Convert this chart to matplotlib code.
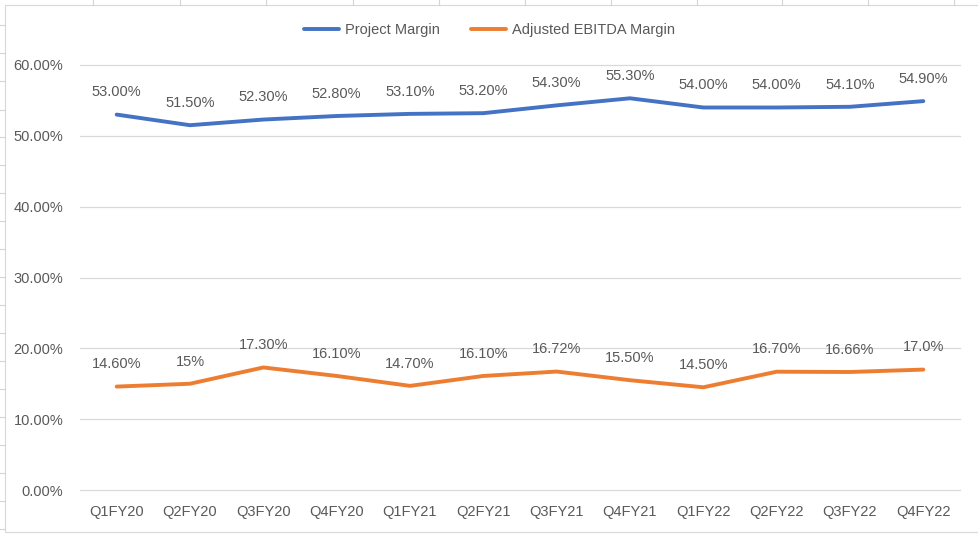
import matplotlib.pyplot as plt
from matplotlib.lines import Line2D
from matplotlib.patches import Rectangle

quarters = ["Q1FY20", "Q2FY20", "Q3FY20", "Q4FY20", "Q1FY21", "Q2FY21",
            "Q3FY21", "Q4FY21", "Q1FY22", "Q2FY22", "Q3FY22", "Q4FY22"]
project_margin = [53.0, 51.5, 52.3, 52.8, 53.1, 53.2, 54.3, 55.3, 54.0, 54.0, 54.1, 54.9]
project_labels = ["53.00%", "51.50%", "52.30%", "52.80%", "53.10%", "53.20%",
                  "54.30%", "55.30%", "54.00%", "54.00%", "54.10%", "54.90%"]
ebitda_margin = [14.6, 15.0, 17.3, 16.1, 14.7, 16.1, 16.72, 15.5, 14.5, 16.7, 16.66, 17.0]
ebitda_labels = ["14.60%", "15%", "17.30%", "16.10%", "14.70%", "16.10%",
                 "16.72%", "15.50%", "14.50%", "16.70%", "16.66%", "17.0%"]
yticks = [0, 10, 20, 30, 40, 50, 60]

blue = "#4472C4"
orange = "#ED7D31"
txt = "#595959"
grid = "#D9D9D9"
plt.rcParams["font.family"] = ["Liberation Sans", "DejaVu Sans"]

W, H = 979, 536
fig = plt.figure(figsize=(W / 100, H / 100), dpi=100)

# spreadsheet cell lines around the chart object
for x in [93, 180, 266, 353, 439, 525, 611, 697, 782, 868, 954]:
    fig.add_artist(Line2D([x / W, x / W], [1, 1 - 5 / H], color="#D4D4D4", lw=0.8))
for y in [25, 53, 81, 110, 137, 165, 193, 221, 249, 277, 305, 333, 361, 389, 417, 445, 473, 501, 529]:
    fig.add_artist(Line2D([0, 5 / W], [1 - y / H, 1 - y / H], color="#D4D4D4", lw=0.8))
fig.add_artist(Rectangle((5 / W, 1 - 532 / H), (W + 10) / W, 527 / H,
                         facecolor="white", edgecolor="#D9D9D9", lw=0.8, zorder=0))

ax = fig.add_axes([80 / W, (H - 490) / H, 880 / W, 425 / H])
ax.set_facecolor("none")
x = list(range(len(quarters)))
ax.plot(x, project_margin, color=blue, lw=2.8, solid_capstyle="round", label="Project Margin")
ax.plot(x, ebitda_margin, color=orange, lw=2.8, solid_capstyle="round", label="Adjusted EBITDA Margin")

for xi, v, s in zip(x, project_margin, project_labels):
    ax.annotate(s, (xi, v), xytext=(0, 16), textcoords="offset points",
                ha="center", va="center", fontsize=10.5, color=txt)
for xi, v, s in zip(x, ebitda_margin, ebitda_labels):
    ax.annotate(s, (xi, v), xytext=(0, 16), textcoords="offset points",
                ha="center", va="center", fontsize=10.5, color=txt)

ax.set_xlim(-0.5, len(quarters) - 0.5)
ax.set_ylim(0, 60)
ax.set_yticks(yticks)
ax.set_yticklabels([f"{t:.2f}%" for t in yticks])
ax.set_xticks(x)
ax.set_xticklabels(quarters)
ax.tick_params(length=0, labelsize=10.5, colors=txt)
ax.tick_params(axis="x", pad=11)
ax.tick_params(axis="y", pad=12)
ax.grid(axis="y", color=grid, lw=0.9)
for gl in ax.get_ygridlines():
    gl.set_clip_on(False)
ax.set_axisbelow(True)
for sp in ax.spines.values():
    sp.set_visible(False)

ax.legend(loc="center", bbox_to_anchor=(0.5, (H - 30) / H), bbox_transform=fig.transFigure,
          ncol=2, frameon=False, fontsize=10.5, labelcolor=txt, handlelength=2.4,
          handletextpad=0.4, columnspacing=2.2)

fig.savefig("out.png", dpi=100)
